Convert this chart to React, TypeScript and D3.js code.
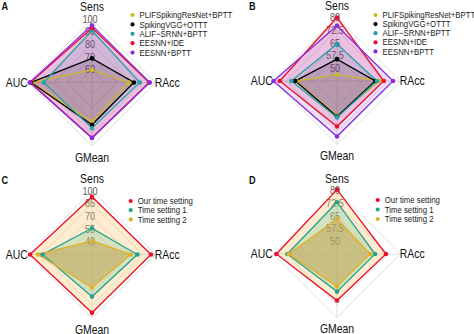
import React from "react";
import * as d3 from "d3";

const axes = ["Sens", "AUC", "GMean", "RAcc"];

const namesAB = ["PLIFSpikingResNet+BPTT", "SpikingVGG+OTTT", "ALIF\u2212SRNN+BPTT", "EESNN+IDE", "EESNN+BPTT"];
const colorsAB = ["#CDB82A", "#000000", "#23A3A8", "#E8102C", "#8A2BE2"];

const namesCD = ["Our time setting", "Time setting 1", "Time setting 2"];
const colorsCD = ["#E8102C", "#25A38E", "#E0B02A"];
const fillsCD = ["rgba(250,195,110,0.32)", "rgba(110,200,150,0.28)", "rgba(190,150,60,0.45)"];

// values ordered as axes: Sens, AUC, GMean, RAcc
const valuesA = [
  [60, 97.5, 80.8, 79],
  [69, 98, 83.3, 83],
  [91, 88, 86, 87.6],
  [93, 98.5, 93.5, 95],
  [95, 99, 93.7, 95.5],
];
const valuesB = [
  [46.3, 66.5, 63, 67.7],
  [55.4, 67.1, 63.5, 65.1],
  [64.3, 69.5, 64, 66],
  [80, 76.3, 69.4, 70.1],
  [75.1, 80, 75.3, 75.6],
];
const valuesC = [
  [93.2, 98.2, 93.9, 94.6],
  [56, 83.4, 74.7, 78.6],
  [41.2, 89, 63.9, 70.6],
];
const valuesD = [
  [80.5, 78.3, 70, 71.4],
  [73.1, 71.8, 64.7, 65],
  [63.2, 71, 61.6, 62.1],
];

const ticksA = ["60", "70", "80", "90", "100"];
const ticksB = ["50", "57.5", "65", "72.5", "80"];
const ticksC = ["40", "55", "70", "85", "100"];
const ticksD = ["50", "57.5", "65", "72.5", "80"];

const FONT = "Liberation Sans, Arial, Helvetica, sans-serif";
const SX = 0.87;

type TProps = {
  x: number;
  y: number;
  size: number;
  fill: string;
  anchor?: string;
  weight?: string;
  children: React.ReactNode;
};

function T({ x, y, size, fill, anchor = "start", weight = "normal", children }: TProps) {
  return (
    <g transform={`translate(${x},${y}) scale(${SX},1)`}>
      <text
        x={0}
        y={0}
        dy="0.35em"
        textAnchor={anchor}
        fontFamily={FONT}
        fontSize={size}
        fontWeight={weight}
        fill={fill}
      >
        {children}
      </text>
    </g>
  );
}

type PanelProps = {
  letter: string;
  letterX: number;
  letterY: number;
  cx: number;
  cy: number;
  R: number;
  ticks: string[];
  names: string[];
  colors: string[];
  fills: string[];
  values: number[][];
  legendX: number;
  legendY: number;
  legendStep: number;
};

function Panel(p: PanelProps) {
  const tmin = +p.ticks[0];
  const tmax = +p.ticks[p.ticks.length - 1];
  const seg = p.ticks.length - 1;
  const center = tmin - (tmax - tmin) / seg;
  const r = d3.scaleLinear().domain([center, tmax]).range([0, p.R]);
  // angles: Sens top, AUC left, GMean bottom, RAcc right (counter-clockwise)
  const angles = axes.map((_, i) => -i * (Math.PI / 2));
  const line = d3
    .lineRadial<number>()
    .angle((_, i) => angles[i])
    .radius((v) => r(v))
    .curve(d3.curveLinearClosed);
  const gridLine = d3
    .lineRadial<number>()
    .angle((_, i) => angles[i])
    .radius((v) => v)
    .curve(d3.curveLinearClosed);
  const levels = d3.range(1, seg + 2).map((i) => (i / (seg + 1)) * p.R);
  const pt = (a: number, rad: number) => [Math.sin(a) * rad, -Math.cos(a) * rad];
  const order = p.values.map((_, i) => i);
  return (
    <g>
      <T x={p.letterX} y={p.letterY} size={10.5} weight="bold" fill="#111">
        {p.letter}
      </T>
      <g transform={`translate(${p.cx},${p.cy})`}>
        {levels.map((lv, i) => (
          <path key={"g" + i} d={gridLine(axes.map(() => lv)) || ""} fill="none" stroke="#dcdcdc" strokeWidth={0.9} />
        ))}
        {angles.map((a, i) => {
          const [x, y] = pt(a, p.R);
          return <line key={"ax" + i} x1={0} y1={0} x2={x} y2={y} stroke="#dcdcdc" strokeWidth={0.9} />;
        })}
        {p.ticks.map((t, i) => (
          <T key={"t" + i} x={-2} y={-levels[i]} size={10.5} anchor="middle" fill="#5a5a5a">
            {t}
          </T>
        ))}
        {order.map((k) => (
          <path key={"f" + k} d={line(p.values[k]) || ""} fill={p.fills[k]} stroke="none" />
        ))}
        {order.map((k) => (
          <path key={"s" + k} d={line(p.values[k]) || ""} fill="none" stroke={p.colors[k]} strokeWidth={1.3} />
        ))}
        {order.map((k) =>
          p.values[k].map((v, i) => {
            const [x, y] = pt(angles[i], r(v));
            return <circle key={"c" + k + "-" + i} cx={x} cy={y} r={2.3} fill={p.colors[k]} />;
          })
        )}
        {axes.map((name, i) => {
          const [x, y] = pt(angles[i], p.R * 1.185);
          return (
            <T key={"n" + i} x={x} y={y} size={12} anchor="middle" fill="#111">
              {name}
            </T>
          );
        })}
      </g>
      {p.names.map((n, i) => (
        <g key={"l" + i}>
          <circle cx={p.legendX} cy={p.legendY + i * p.legendStep} r={2.1} fill={p.colors[i]} />
          <T x={p.legendX + 7} y={p.legendY + i * p.legendStep} size={9} fill="#222">
            {n}
          </T>
        </g>
      ))}
    </g>
  );
}

const alpha = (c: string, a: number) => {
  const col = d3.color(c)!;
  col.opacity = a;
  return col.formatRgb();
};

export default function App() {
  const fillsAB = colorsAB.map((c) => alpha(c, 0.15));
  return (
    <div style={{ position: "absolute", left: 0, top: 0 }}>
      <svg width={474} height={334} style={{ display: "block", background: "#fff" }}>
        <Panel
          letter="A"
          letterX={1.5}
          letterY={6.5}
          cx={92}
          cy={82.5}
          R={63.5}
          ticks={ticksA}
          names={namesAB}
          colors={colorsAB}
          fills={fillsAB}
          values={valuesA}
          legendX={132.5}
          legendY={15}
          legendStep={9.4}
        />
        <Panel
          letter="B"
          letterX={249}
          letterY={6.5}
          cx={337}
          cy={81}
          R={63.5}
          ticks={ticksB}
          names={namesAB}
          colors={colorsAB}
          fills={fillsAB}
          values={valuesB}
          legendX={375.5}
          legendY={15}
          legendStep={9.1}
        />
        <Panel
          letter="C"
          letterX={1.5}
          letterY={180.5}
          cx={92}
          cy={254.5}
          R={63.5}
          ticks={ticksC}
          names={namesCD}
          colors={colorsCD}
          fills={fillsCD}
          values={valuesC}
          legendX={130.7}
          legendY={201}
          legendStep={9.2}
        />
        <Panel
          letter="D"
          letterX={249}
          letterY={180.5}
          cx={337}
          cy={254}
          R={63.5}
          ticks={ticksD}
          names={namesCD}
          colors={colorsCD}
          fills={fillsCD}
          values={valuesD}
          legendX={377.7}
          legendY={200}
          legendStep={9.5}
        />
      </svg>
    </div>
  );
}
